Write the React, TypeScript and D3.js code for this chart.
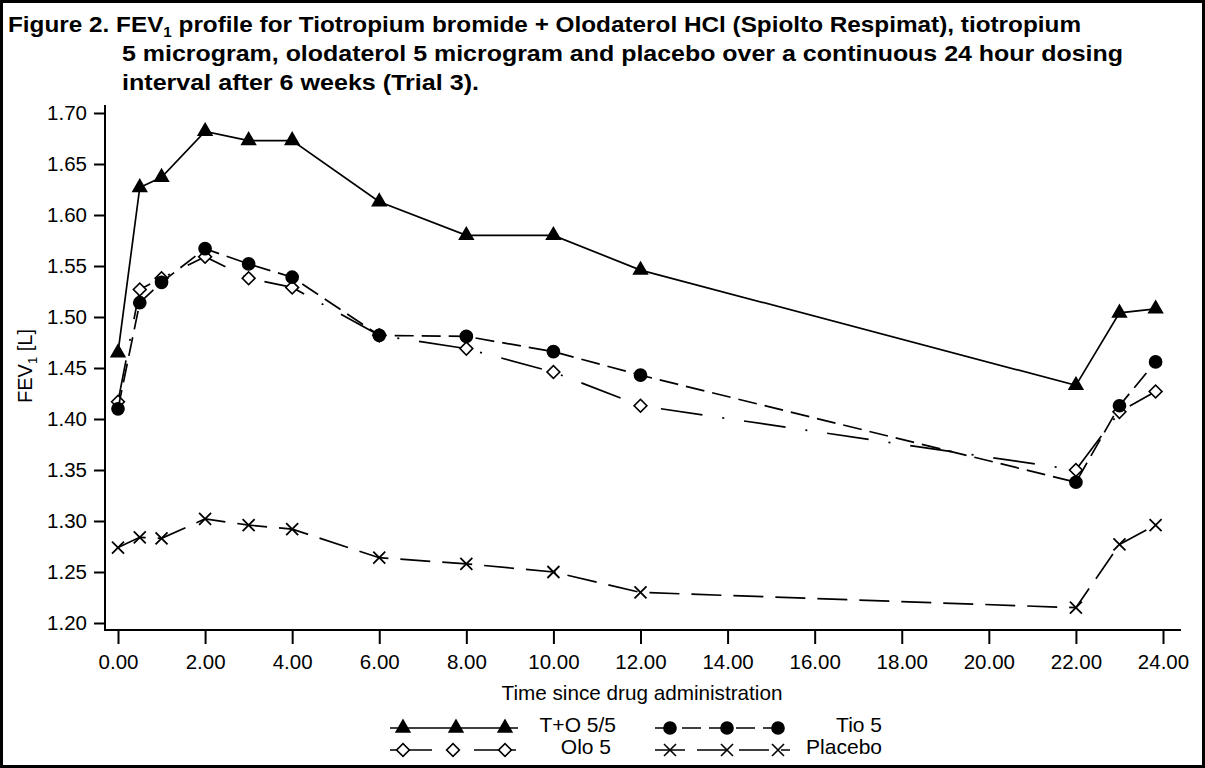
import React, { useEffect, useRef } from "react";
import * as d3 from "d3";

// time after dosing (h) and mean FEV1 (L) per treatment arm
const hours = [0, 0.5, 1, 2, 3, 4, 6, 8, 10, 12, 22, 23, 23.83];
const tioOlo = [1.465, 1.627, 1.637, 1.682, 1.673, 1.673, 1.613, 1.580, 1.580, 1.546, 1.433, 1.504, 1.508];
const tio = [1.410, 1.514, 1.534, 1.567, 1.552, 1.539, 1.482, 1.481, 1.466, 1.443, 1.338, 1.413, 1.456];
const olo = [1.417, 1.527, 1.538, 1.559, 1.538, 1.529, 1.482, 1.469, 1.446, 1.413, 1.350, 1.407, 1.427];
const placebo = [1.274, 1.284, 1.283, 1.302, 1.296, 1.292, 1.264, 1.258, 1.250, 1.230, 1.215, 1.277, 1.296];

const xTicks = [0, 2, 4, 6, 8, 10, 12, 14, 16, 18, 20, 22, 24];
const yTicks = [1.2, 1.25, 1.3, 1.35, 1.4, 1.45, 1.5, 1.55, 1.6, 1.65, 1.7];

const seriesNames = ["T+O 5/5", "Tio 5", "Olo 5", "Placebo"];

const FONT = "'Liberation Sans', Arial, Helvetica, sans-serif";

function App() {
    const svgRef = useRef<SVGSVGElement>(null);

    const width = 1205;
    const height = 768;

    useEffect(() => {
        const svg = d3.select(svgRef.current);
        svg.selectAll("*").remove();

        const x = d3.scaleLinear().domain([0, 24]).range([118, 1163]);
        const y = d3.scaleLinear().domain([1.2, 1.7]).range([623, 113]);

        // outer frame
        svg.append("rect")
            .attr("x", 1.5).attr("y", 1.5)
            .attr("width", width - 3).attr("height", height - 3)
            .attr("fill", "white").attr("stroke", "black").attr("stroke-width", 3);

        // title, three lines stretched to the caption's width
        const title = svg.append("g")
            .attr("font-family", FONT).attr("font-weight", "bold").attr("font-size", 22.5);
        const t1 = title.append("text").attr("x", 8).attr("y", 32)
            .attr("textLength", 1073).attr("lengthAdjust", "spacingAndGlyphs");
        t1.append("tspan").text("Figure 2. FEV");
        t1.append("tspan").attr("font-size", 14).attr("dy", 5).text("1");
        t1.append("tspan").attr("dy", -5)
            .text(" profile for Tiotropium bromide + Olodaterol HCl (Spiolto Respimat), tiotropium");
        title.append("text").attr("x", 122).attr("y", 61)
            .attr("textLength", 1001).attr("lengthAdjust", "spacingAndGlyphs")
            .text("5 microgram, olodaterol 5 microgram and placebo over a continuous 24 hour dosing");
        title.append("text").attr("x", 122).attr("y", 90)
            .attr("textLength", 357).attr("lengthAdjust", "spacingAndGlyphs")
            .text("interval after 6 weeks (Trial 3).");

        // axes
        const xAxis = svg.append("g").attr("transform", "translate(0,630)")
            .call(d3.axisBottom(x).tickValues(xTicks).tickSize(14).tickSizeOuter(0).tickPadding(10)
                .tickFormat((d) => (d as number).toFixed(2)));
        xAxis.select(".domain").attr("d", "M105,0H1181").attr("stroke-width", 2);
        xAxis.selectAll(".tick line").attr("stroke-width", 2);
        xAxis.selectAll("text").attr("font-family", FONT).attr("font-size", 20.5).attr("fill", "black");

        const yAxis = svg.append("g").attr("transform", "translate(105,0)")
            .call(d3.axisLeft(y).tickValues(yTicks).tickSize(11).tickSizeOuter(0).tickPadding(7)
                .tickFormat((d) => (d as number).toFixed(2)));
        yAxis.select(".domain").attr("d", "M0,105V631").attr("stroke-width", 2);
        yAxis.selectAll(".tick line").attr("stroke-width", 2);
        yAxis.selectAll("text").attr("font-family", FONT).attr("font-size", 20.5).attr("fill", "black");

        svg.append("text")
            .attr("x", 642).attr("y", 700).attr("text-anchor", "middle")
            .attr("font-family", FONT).attr("font-size", 20.7)
            .text("Time since drug administration");

        const yl = svg.append("text")
            .attr("transform", "translate(32,366) rotate(-90)")
            .attr("text-anchor", "middle")
            .attr("font-family", FONT).attr("font-size", 20);
        yl.append("tspan").text("FEV");
        yl.append("tspan").attr("font-size", 13).attr("dy", 5).text("1");
        yl.append("tspan").attr("dy", -5).text(" [L]");

        // marker shapes
        const triangle = d3.symbol(d3.symbolTriangle, 80)();
        const circle = d3.symbol(d3.symbolCircle, 115)();
        const diamond = d3.symbol(d3.symbolSquare, 82)();
        const cross = "M-6,-6L6,6M-6,6L6,-6";

        const styles = [
            { values: tioOlo, dash: null, marker: triangle, fill: "black", rot: 0 },
            { values: tio, dash: "19,8", marker: circle, fill: "black", rot: 0 },
            { values: olo, dash: "42,20,2,20", marker: diamond, fill: "white", rot: 45 },
            { values: placebo, dash: "30,12", marker: cross, fill: "none", rot: 0 },
        ];

        const line = d3.line<number>().x((d, i) => x(hours[i])).y((d) => y(d));

        const drawOrder = [0, 2, 1, 3];
        drawOrder.forEach((k) => {
            const s = styles[k];
            const g = svg.append("g");
            g.append("path")
                .attr("d", line(s.values))
                .attr("fill", "none").attr("stroke", "black").attr("stroke-width", 1.7)
                .attr("stroke-dasharray", s.dash);
            g.selectAll("path.mark")
                .data(s.values)
                .join("path")
                .attr("class", "mark")
                .attr("d", s.marker)
                .attr("transform", (d, i) => `translate(${x(hours[i])},${y(d)}) rotate(${s.rot})`)
                .attr("fill", s.fill).attr("stroke", "black").attr("stroke-width", k === 3 ? 1.8 : 1.6);
        });

        // legend
        const legendPos = [
            { x0: 390, x1: 518, marks: [403, 456, 505], ty: 728, tx: 616 },
            { x0: 655, x1: 790, marks: [670, 727, 778], ty: 728, tx: 882 },
            { x0: 390, x1: 518, marks: [403, 453, 505], ty: 750, tx: 611 },
            { x0: 655, x1: 790, marks: [670, 727, 778], ty: 750, tx: 882 },
        ];
        seriesNames.forEach((name, k) => {
            const s = styles[k];
            const p = legendPos[k];
            const g = svg.append("g");
            g.append("line")
                .attr("x1", p.x0).attr("x2", p.x1).attr("y1", p.ty).attr("y2", p.ty)
                .attr("stroke", "black").attr("stroke-width", 1.7)
                .attr("stroke-dasharray", s.dash);
            g.selectAll("path")
                .data(p.marks)
                .join("path")
                .attr("d", s.marker)
                .attr("transform", (d) => `translate(${d},${p.ty}) rotate(${s.rot})`)
                .attr("fill", s.fill).attr("stroke", "black").attr("stroke-width", 1.6);
            g.append("text")
                .attr("x", p.tx).attr("y", p.ty + 4).attr("text-anchor", "end")
                .attr("font-family", FONT).attr("font-size", 21)
                .text(name);
        });
    }, []);

    return (
        <div style={{ position: "absolute", left: 0, top: 0 }}>
            <svg ref={svgRef} width={width} height={height} style={{ display: "block" }}></svg>
        </div>
    );
}

export default App;
